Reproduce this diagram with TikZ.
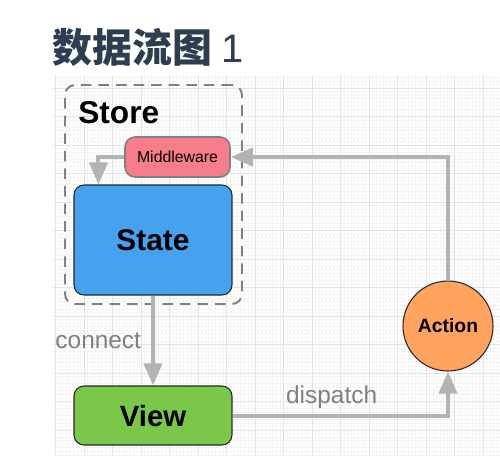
\documentclass[tikz,border=0pt]{standalone}
\usepackage{fontspec}
\setmainfont{Liberation Sans}
\newfontfamily\cjk{Noto Sans CJK SC}
\usetikzlibrary{arrows.meta,positioning}
\definecolor{titleblue}{HTML}{2C3E50}
\definecolor{mwred}{HTML}{F87D8A}
\definecolor{stateblue}{HTML}{46A1EF}
\definecolor{viewgreen}{HTML}{7AC74A}
\definecolor{actionorange}{HTML}{FFA35F}
\definecolor{flowgray}{HTML}{B3B3B3}
\definecolor{labelgray}{HTML}{808080}

\begin{document}
\begin{tikzpicture}[x=0.02cm, y=-0.02cm,
  gridminor/.style={line width=0.4pt, color=black!4},
  gridmajor/.style={line width=0.5pt, color=black!11},
  storebox/.style={draw=labelgray, dashed, dash pattern=on 6pt off 4pt, line width=1.1pt, rounded corners=0.2cm, minimum width=3.54cm, minimum height=4.38cm},
  mwbox/.style={draw=labelgray, line width=0.9pt, rounded corners=0.2cm, fill=mwred, minimum width=2.1cm, minimum height=0.8cm, font=\fontsize{9}{10}\selectfont},
  statebox/.style={draw=black!85, line width=0.6pt, rounded corners=0.2cm, fill=stateblue, minimum width=3.16cm, minimum height=2.2cm, font=\fontsize{17}{20}\selectfont\bfseries},
  viewbox/.style={draw=black!85, line width=0.6pt, rounded corners=0.2cm, fill=viewgreen, minimum width=3.16cm, minimum height=1.18cm, font=\fontsize{16.7}{20}\selectfont\bfseries},
  actioncircle/.style={draw=black!85, line width=0.6pt, circle, fill=actionorange, minimum size=1.8cm, inner sep=0pt, font=\fontsize{11}{13}\selectfont\bfseries},
  flow/.style={-{Triangle[length=0.44cm, width=0.36cm]}, line width=0.08cm, color=flowgray},
  flowlabel/.style={text=labelgray, inner sep=0pt, font=\fontsize{13.9}{16}\selectfont}
]
  \useasboundingbox (0,0) rectangle (500,468);

  \begin{scope}
    \clip (53,75) rectangle (500,455);
    \foreach \i in {-1,...,125} \draw[gridminor] ({55.5+3.5625*\i},75) -- ({55.5+3.5625*\i},455);
    \foreach \j in {-4,...,103} \draw[gridminor] (53,{88+3.5625*\j}) -- (500,{88+3.5625*\j});
    \foreach \i in {0,...,15} \draw[gridmajor] ({55.5+28.5*\i},75) -- ({55.5+28.5*\i},455);
    \foreach \j in {0,...,12} \draw[gridmajor] (53,{88+28.5*\j}) -- (500,{88+28.5*\j});
  \end{scope}

  \node[anchor=base west, inner sep=0pt, text=titleblue] (title) at (52,62)
    {{\cjk\bfseries\fontsize{22.7}{26}\selectfont 数据流图}\hspace{0.2cm}{\fontsize{22.7}{26}\selectfont 1}};

  \node[storebox] (store) at (153.5,194.5) {};
  \node[anchor=base west, inner sep=0pt, font=\fontsize{18}{21}\selectfont\bfseries] (storelabel) at (78,123) {Store};

  \node[mwbox] (mw) at (177.5,157) {Middleware};
  \node[statebox] (state) at (153,240) {State};
  \node[viewbox] (view) at (153,415.5) {View};
  \node[actioncircle] (action) at (448,326) {Action};

  \draw[flow] (action.north) |- (mw.east);
  \draw[flow] (mw.west) -| ([xshift=0.5cm]state.north west);
  \draw[flow] (state.south) -- node[flowlabel, midway, left=0.2cm] {connect} (view.north);
  \draw[flow] (view.east) -| node[flowlabel, pos=0.23, above=0.1cm] {dispatch} (action.south);
\end{tikzpicture}
\end{document}
